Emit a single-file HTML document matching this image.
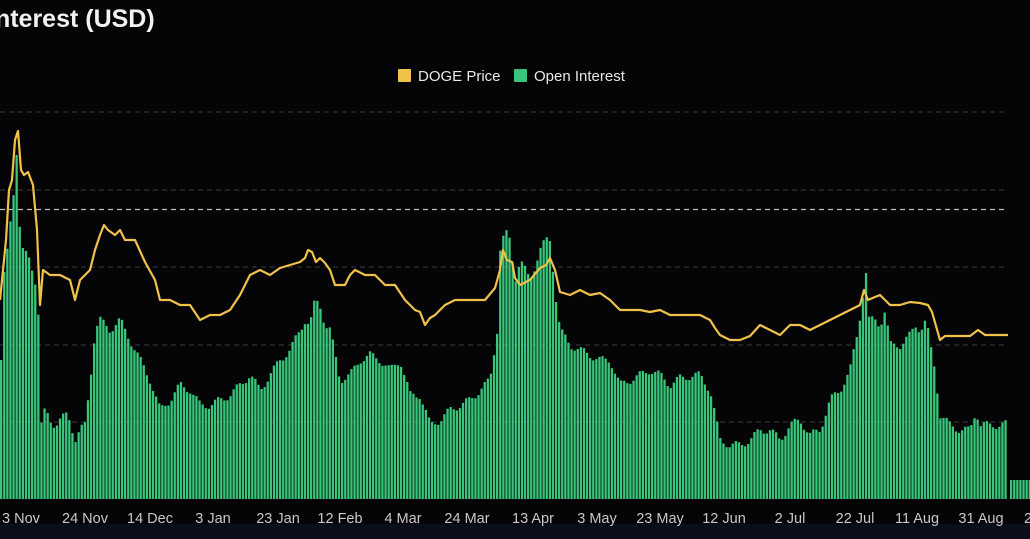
<!DOCTYPE html>
<html><head><meta charset="utf-8"><style>
html,body{margin:0;padding:0;background:#050508;width:1030px;height:539px;overflow:hidden;font-family:"Liberation Sans",sans-serif}
</style></head><body>
<svg id="s" width="1030" height="539" xmlns="http://www.w3.org/2000/svg" style="position:absolute;left:0;top:0">
<rect width="1030" height="539" fill="#050508"/>
<rect x="0" y="524" width="1030" height="15" fill="#0a0e18"/>
<g stroke="#3a3a40" stroke-width="1" stroke-dasharray="5,4">
<line x1="0" y1="112" x2="1007" y2="112"/>
<line x1="0" y1="190" x2="1007" y2="190"/>
<line x1="0" y1="267" x2="1007" y2="267"/>
<line x1="0" y1="345" x2="1007" y2="345"/>
<line x1="0" y1="422" x2="1007" y2="422"/>
</g>
<line x1="0" y1="209.5" x2="1007" y2="209.5" stroke="#bbbbbb" stroke-width="1.3" stroke-dasharray="5,4"/>
<g id="bars" fill="#38c67a"></g>
<polyline id="price" fill="none" stroke="#f0c24a" stroke-width="2.2" stroke-linejoin="round"/>
<text x="-12" y="27" fill="#f2f2f2" font-size="25" font-weight="bold">Interest (USD)</text>
<rect x="398" y="69" width="13" height="13" rx="1" fill="#f0c24a"/>
<text x="418" y="81" fill="#e8e8e8" font-size="15">DOGE Price</text>
<rect x="514" y="69" width="13" height="13" rx="1" fill="#38c67a"/>
<text x="534" y="81" fill="#e8e8e8" font-size="15">Open Interest</text>
<g fill="#c8c8cc" font-size="14.5" text-anchor="middle">
<text x="21" y="523">3 Nov</text><text x="85" y="523">24 Nov</text><text x="150" y="523">14 Dec</text>
<text x="213" y="523">3 Jan</text><text x="278" y="523">23 Jan</text><text x="340" y="523">12 Feb</text>
<text x="403" y="523">4 Mar</text><text x="467" y="523">24 Mar</text><text x="533" y="523">13 Apr</text>
<text x="597" y="523">3 May</text><text x="660" y="523">23 May</text><text x="724" y="523">12 Jun</text>
<text x="790" y="523">2 Jul</text><text x="855" y="523">22 Jul</text><text x="917" y="523">11 Aug</text>
<text x="981" y="523">31 Aug</text><text x="1028" y="523">2</text>
</g>
</svg>
<script>
var oi=[[0,390],[3,300],[5,255],[9,250],[12,185],[15,200],[17,135],[19,220],[22,250],[26,255],[30,260],[35,280],[38,300],[40,430],[45,410],[50,420],[55,425],[60,420],[66,415],[70,420],[75,440],[80,430],[85,425],[90,380],[95,330],[100,320],[105,325],[110,330],[115,325],[120,320],[125,330],[130,340],[140,360],[150,380],[160,410],[170,400],[180,385],[190,390],[200,405],[210,405],[220,400],[230,395],[240,385],[250,375],[260,390],[270,375],[280,360],[290,350],[300,330],[305,320],[310,325],[315,300],[320,305],[325,325],[330,330],[340,380],[350,375],[360,360],[370,355],[380,360],[390,370],[400,360],[410,395],[420,395],[430,425],[440,420],[450,410],[460,405],[470,400],[480,390],[490,380],[497,330],[500,250],[505,232],[510,240],[515,280],[520,260],[530,280],[540,250],[546,240],[550,240],[556,300],[560,330],[570,345],[580,350],[590,355],[600,360],[610,360],[620,385],[630,380],[640,375],[650,370],[660,375],[670,385],[680,378],[690,376],[700,375],[710,390],[720,440],[730,445],[740,445],[750,440],[760,430],[770,430],[780,440],[790,425],[800,420],[810,435],[820,430],[830,400],[840,390],[850,370],[858,330],[862,300],[866,272],[869,320],[875,320],[880,325],[885,310],[890,345],[900,345],[910,335],[916,325],[920,330],[926,320],[930,345],[935,370],[940,415],[950,425],[960,430],[970,430],[976,410],[980,425],[990,425],[1000,425],[1007,424]];
var pr=[[0,300],[3,270],[6,240],[9,190],[12,180],[15,140],[18,131],[21,170],[24,175],[28,172],[33,185],[37,230],[40,305],[43,270],[50,275],[60,275],[70,280],[75,300],[80,280],[90,270],[95,250],[100,235],[104,225],[108,230],[115,235],[120,230],[125,240],[135,240],[145,262],[155,280],[160,300],[170,300],[180,305],[190,305],[200,320],[210,315],[220,315],[230,310],[240,295],[250,275],[260,270],[270,275],[280,268],[290,265],[300,262],[305,258],[308,250],[312,252],[316,262],[320,258],[325,263],[330,270],[335,285],[345,285],[350,275],[355,270],[365,275],[375,275],[385,285],[395,285],[405,300],[415,310],[420,312],[425,325],[430,318],[435,315],[445,305],[455,300],[465,300],[475,300],[485,300],[495,288],[500,270],[503,250],[507,260],[512,262],[515,278],[520,285],[530,280],[540,268],[546,265],[550,258],[555,270],[560,292],[570,295],[580,290],[590,295],[600,293],[610,300],[620,310],[630,310],[640,310],[650,312],[660,310],[670,315],[680,315],[690,315],[700,315],[710,320],[715,328],[720,335],[730,340],[740,340],[750,336],[760,325],[770,330],[780,335],[790,325],[800,325],[810,330],[820,325],[830,320],[840,315],[850,310],[860,305],[864,290],[868,300],[875,297],[880,295],[890,305],[900,305],[910,302],[920,303],[928,305],[932,312],[940,340],[945,336],[950,336],[960,336],[970,336],[978,330],[985,335],[1000,335],[1008,335]];
function interp(a,x){for(var i=1;i<a.length;i++){if(x<=a[i][0]){var t=(x-a[i-1][0])/(a[i][0]-a[i-1][0]);return a[i-1][1]+t*(a[i][1]-a[i-1][1]);}}return a[a.length-1][1];}
var g=document.getElementById('bars'),h='';
for(var x=0;x<1007;x+=3.1){var y=interp(oi,x+1);y+=Math.sin(x*1.7)*4;h+='<rect x="'+x.toFixed(1)+'" y="'+y.toFixed(1)+'" width="2.3" height="'+(499-y).toFixed(1)+'"/>';}
for(var x=1010;x<1030;x+=3.1){h+='<rect x="'+x.toFixed(1)+'" y="480" width="2.3" height="19"/>';}
g.innerHTML=h;
document.getElementById('price').setAttribute('points',pr.map(function(p){return p[0]+','+p[1]}).join(' '));
</script>
</body></html>
